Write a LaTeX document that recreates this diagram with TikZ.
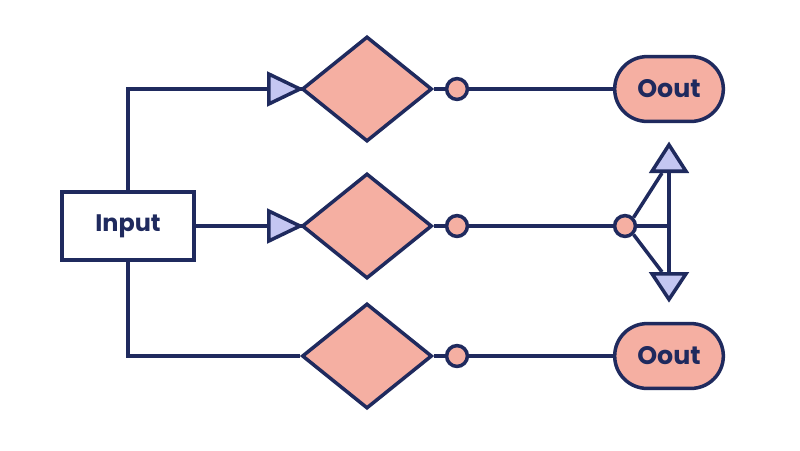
\documentclass[tikz,border=0pt]{standalone}
\usepackage{fontspec}
\setmainfont{Poppins}
\usetikzlibrary{shapes.geometric,shapes.misc,positioning,calc}
\definecolor{navy}{HTML}{1F2A5E}
\definecolor{salmon}{HTML}{F5AFA2}
\definecolor{lavender}{HTML}{C4C6F2}
\tikzset{
  wire/.style={draw=navy,line width=2.5pt},
  inbox/.style={rectangle,draw=navy,fill=white,line width=2.5pt,minimum width=3.3cm,minimum height=1.7cm,text=navy,font=\fontsize{17}{20}\selectfont\bfseries},
  choice/.style={diamond,draw=navy,fill=salmon,line width=2.5pt,minimum width=3.25cm,minimum height=2.625cm,inner sep=0pt},
  dot/.style={circle,draw=navy,fill=salmon,line width=2.5pt,minimum size=0.52cm,inner sep=0pt},
  tip/.style={isosceles triangle,isosceles triangle stretches,draw=navy,fill=lavender,line width=2.5pt,inner sep=0pt},
  outbox/.style={rounded rectangle,draw=navy,fill=salmon,line width=2.5pt,minimum width=2.95cm,minimum height=1.62cm,text=navy,font=\fontsize{18}{21}\selectfont\bfseries}
}
\begin{document}
\begin{tikzpicture}[x=0.025cm,y=-0.025cm]
        % Fix the frame
        \useasboundingbox[fill=white] (0,0) rectangle (800,450);
        % Input box
        \node[inbox] (in) at (128,226) {Input};
        % Define the three branches
        \node[tip,minimum width=0.75cm,minimum height=0.78cm,anchor=west] (t1) at (267,89) {};
        \node[tip,minimum width=0.75cm,minimum height=0.78cm,anchor=west] (t2) at (267,226) {};
        \node[choice] (d1) at (367,89) {};
        \node[choice] (d2) at (367,226) {};
        \node[choice] (d3) at (367,356) {};
        \node[dot] (c1) at (457,89) {};
        \node[dot] (c2) at (457,226) {};
        \node[dot] (c3) at (457,356) {};
        \node[outbox] (o1) at (669,89) {Oout};
        \node[outbox] (o3) at (669,356) {Oout};
        % Split at the end of the middle branch
        \node[dot] (split) at (625,226) {};
        \node[tip,shape border rotate=90,minimum width=0.85cm,minimum height=0.66cm,anchor=south] (up) at (669,173) {};
        \node[tip,shape border rotate=-90,minimum width=0.85cm,minimum height=0.64cm,anchor=north] (down) at (669,272) {};
        \coordinate (mid) at (669,226);
        % Connect everything
        \draw[wire] (in.north) |- (t1.west);
        \draw[wire] (in.east) -- (t2.west);
        \draw[wire] (in.south) |- (d3.west);
        \draw[wire] (t1.east) -- (d1.west);
        \draw[wire] (t2.east) -- (d2.west);
        \draw[wire] (d1.east) -- (c1.west);
        \draw[wire] (d2.east) -- (c2.west);
        \draw[wire] (d3.east) -- (c3.west);
        \draw[wire] (c1.east) -- (o1.west);
        \draw[wire] (c2.east) -- (split.west);
        \draw[wire] (c3.east) -- (o3.west);
        \draw[wire] (split.east) -- (mid);
        \draw[wire] (up.south) -- (down.north);
        \draw[wire] (split.north east) -- ($(up.south)+(-7,0)$);
        \draw[wire] (split.south east) -- ($(down.north)+(-7,0)$);
      \end{tikzpicture}
\end{document}
